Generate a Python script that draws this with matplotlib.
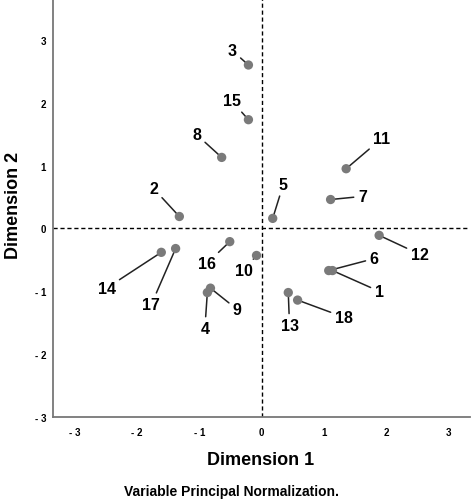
import matplotlib.pyplot as plt

plt.rcParams['font.family'] = ['Liberation Sans', 'DejaVu Sans']

# variable coordinates (dimension 1, dimension 2)
labels = ["1", "2", "3", "4", "5", "6", "7", "8", "9", "10", "11", "12",
          "13", "14", "15", "16", "17", "18"]
dim1 = [1.14, -1.32, -0.21, -0.87, 0.18, 1.08, 1.11, -0.64, -0.82, -0.08,
        1.36, 1.89, 0.43, -1.61, -0.21, -0.51, -1.38, 0.58]
dim2 = [-0.67, 0.19, 2.60, -1.02, 0.16, -0.67, 0.46, 1.13, -0.95, -0.43,
        0.95, -0.11, -1.02, -0.38, 1.73, -0.21, -0.32, -1.14]

ticks = [-3, -2, -1, 0, 1, 2, 3]
tick_labels = ["- 3", "- 2", "- 1", "0", "1", "2", "3"]

# where each label text sits (data coords)
label_pos = {
    "1": (1.89, -1.00), "2": (-1.73, 0.63), "3": (-0.47, 2.83),
    "4": (-0.91, -1.59), "5": (0.35, 0.70), "6": (1.81, -0.48),
    "7": (1.62, 0.51), "8": (-1.04, 1.49), "9": (-0.39, -1.29),
    "10": (-0.29, -0.67), "11": (1.93, 1.43), "12": (2.54, -0.41),
    "13": (0.45, -1.54), "14": (-2.49, -0.95), "15": (-0.48, 2.03),
    "16": (-0.88, -0.56), "17": (-1.77, -1.21), "18": (1.32, -1.41),
}

fig = plt.figure(figsize=(4.74, 5.02), dpi=100)
ax = fig.add_axes([0.1118, 0.1673, 0.8798, 0.8327])

ax.axhline(0, color="black", lw=1, ls=(0, (3, 2)), zorder=1)
ax.axvline(0, color="black", lw=1, ls=(0, (3, 2)), zorder=1)

for name, x, y in zip(labels, dim1, dim2):
    ax.annotate(name, xy=(x, y), xytext=label_pos[name], textcoords="data",
                ha="center", va="center", fontsize=11.5, weight="bold",
                arrowprops=dict(arrowstyle="-", color="#222222", lw=1.1,
                                shrinkA=1, shrinkB=2), zorder=2)
ax.scatter(dim1, dim2, s=45, color="#7a7a7a", zorder=3, edgecolors="none")

ax.set_xlim(-3.35, 3.35)
ax.set_ylim(-3, 3.65)
ax.set_xticks(ticks)
ax.set_xticklabels(tick_labels)
ax.set_yticks(ticks)
ax.set_yticklabels(tick_labels)
ax.tick_params(length=0, labelsize=7)
ax.tick_params(axis="x", pad=7)
ax.tick_params(axis="y", pad=5)
for lab in ax.get_xticklabels() + ax.get_yticklabels():
    lab.set_fontweight("bold")

for side in ("top", "right"):
    ax.spines[side].set_visible(False)
for side in ("left", "bottom"):
    ax.spines[side].set_color("#777777")
    ax.spines[side].set_linewidth(1.3)

fig.text(0.55, 0.0817, "Dimension 1", ha="center", va="center",
         fontsize=13, weight="bold")
fig.text(0.0295, 0.59, "Dimension 2", ha="center", va="center",
         rotation=90, fontsize=13, weight="bold")
fig.text(0.488, 0.0199, "Variable Principal Normalization.", ha="center",
         va="center", fontsize=10, weight="bold")

fig.savefig("out.png", dpi=100)
